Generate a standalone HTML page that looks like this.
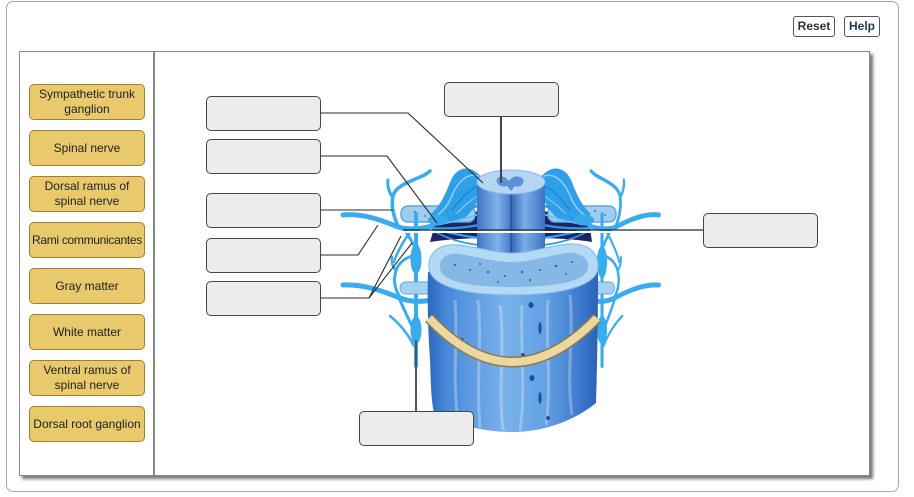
<!DOCTYPE html>
<html><head><meta charset="utf-8"><style>
*{box-sizing:border-box}
body{margin:0;width:914px;height:497px;background:#fff;position:relative;overflow:hidden;font-family:"Liberation Sans",Arial,sans-serif}
.outer{position:absolute;left:6px;top:1px;width:893px;height:491px;border:1px solid #a8a8a8;border-radius:7px}
.btn{position:absolute;top:16px;height:21px;border:1px solid #555;border-radius:3px;font-size:12px;font-weight:bold;text-align:center;line-height:19px;background:#fff}
.panel{position:absolute;left:19px;top:51px;width:851px;height:425px;border:1px solid #8a8a8a;box-shadow:3px 3px 3px #777;background:#fff}
.dv{position:absolute;left:153px;top:51px;width:2px;height:425px;background:#888}
.lab{position:absolute;left:29px;width:116px;height:36px;background:#e8c96c;border:1px solid #a87c2c;border-radius:5px;font-size:12px;color:#222;display:flex;align-items:center;justify-content:center;text-align:center;line-height:15px;white-space:nowrap}
.box{position:absolute;width:115px;height:35px;background:#ececec;border:1px solid #4a4444;border-radius:5px}
svg{position:absolute;left:0;top:0}
</style></head>
<body>
<div class="outer"></div>
<div class="btn" style="left:793px;width:42px;color:#333">Reset</div>
<div class="btn" style="left:844px;width:36px;color:#1d3d52">Help</div>
<div class="panel"></div>
<div class="dv"></div>

<svg width="914" height="497" viewBox="0 0 914 497">
<defs>
<linearGradient id="bg" x1="0" x2="1" y1="0" y2="0">
<stop offset="0" stop-color="#2c68bd"/>
<stop offset="0.12" stop-color="#4b8ada"/>
<stop offset="0.45" stop-color="#78b2ea"/>
<stop offset="0.7" stop-color="#62a0e4"/>
<stop offset="0.9" stop-color="#3c78ca"/>
<stop offset="1" stop-color="#2a62b6"/>
</linearGradient>
<linearGradient id="cg" x1="0" x2="1" y1="0" y2="0">
<stop offset="0" stop-color="#3f74c4"/>
<stop offset="0.3" stop-color="#80b2ea"/>
<stop offset="0.48" stop-color="#4d80cc"/>
<stop offset="0.52" stop-color="#3a6cb8"/>
<stop offset="0.7" stop-color="#7aaee8"/>
<stop offset="1" stop-color="#3d72c2"/>
</linearGradient>
</defs>

<path d="M438,214 C470,210 552,210 588,214 L592,242 C560,236 465,236 430,242 Z" fill="#1d2466"/>

<rect x="401" y="206" width="74" height="16" rx="7" fill="#9fcdf0" stroke="#5fa6e4" stroke-width="1.5"/>
<rect x="548" y="206" width="68" height="16" rx="7" fill="#9fcdf0" stroke="#5fa6e4" stroke-width="1.5"/>
<g fill="#4f86cc">
<circle cx="415" cy="212" r="1.2"/><circle cx="425" cy="216" r="1"/><circle cx="440" cy="211" r="1.2"/><circle cx="452" cy="215" r="1"/>
<circle cx="570" cy="212" r="1.2"/><circle cx="582" cy="216" r="1"/><circle cx="595" cy="211" r="1.2"/><circle cx="605" cy="215" r="1"/>
</g>

<g>
<path d="M482,178 C472,165 458,165 451,180 C446,192 442,204 431,214 C440,223 452,223 462,220 C470,215 476,205 481,195 Z" fill="#2e9fe8"/>
<g fill="none" stroke-linecap="round">
<path d="M478,176 C465,172 456,185 450,200 C446,208 440,214 434,217" stroke="#8fd0f6" stroke-width="1.5"/>
<path d="M480,185 C468,190 460,200 452,210" stroke="#1a7fcf" stroke-width="1.2"/>
<path d="M480,195 C470,200 462,208 455,215" stroke="#7cc8f5" stroke-width="1.2"/>
<path d="M479,205 C465,212 450,218 436,222" stroke="#2a9ae4" stroke-width="2.2"/>
<path d="M479,214 C465,219 450,223 435,225" stroke="#6cc0f3" stroke-width="1.6"/>
<path d="M479,225 C463,228 448,229 433,228" stroke="#2a9ae4" stroke-width="2.2"/>
<path d="M479,238 C462,236 446,232 433,229" stroke="#35a6ec" stroke-width="2.2"/>
<path d="M479,245 C460,243 446,238 434,231" stroke="#2a9ae4" stroke-width="1.8"/>
</g>
<ellipse cx="438" cy="220" rx="10" ry="5.5" fill="#38aaec"/>
</g>
<g transform="matrix(-1,0,0,1,1022,0)">
<path d="M482,178 C472,165 458,165 451,180 C446,192 442,204 431,214 C440,223 452,223 462,220 C470,215 476,205 481,195 Z" fill="#2e9fe8"/>
<g fill="none" stroke-linecap="round">
<path d="M478,176 C465,172 456,185 450,200 C446,208 440,214 434,217" stroke="#8fd0f6" stroke-width="1.5"/>
<path d="M480,185 C468,190 460,200 452,210" stroke="#1a7fcf" stroke-width="1.2"/>
<path d="M480,195 C470,200 462,208 455,215" stroke="#7cc8f5" stroke-width="1.2"/>
<path d="M479,205 C465,212 450,218 436,222" stroke="#2a9ae4" stroke-width="2.2"/>
<path d="M479,214 C465,219 450,223 435,225" stroke="#6cc0f3" stroke-width="1.6"/>
<path d="M479,225 C463,228 448,229 433,228" stroke="#2a9ae4" stroke-width="2.2"/>
<path d="M479,238 C462,236 446,232 433,229" stroke="#35a6ec" stroke-width="2.2"/>
<path d="M479,245 C460,243 446,238 434,231" stroke="#2a9ae4" stroke-width="1.8"/>
</g>
<ellipse cx="438" cy="220" rx="10" ry="5.5" fill="#38aaec"/>
</g>

<rect x="477" y="182" width="68" height="74" fill="url(#cg)"/>
<line x1="511" y1="190" x2="511" y2="256" stroke="#2c5aa4" stroke-width="2"/>
<ellipse cx="511" cy="182" rx="34" ry="12" fill="#b5d6f2" stroke="#8ab8e8" stroke-width="1"/>
<path d="M497,179 C501,174 506,177 509,181 C512,177 517,174 523,179 C525,184 520,188 515,186 L511,191 L507,186 C502,188 495,184 497,179 Z" fill="#5d90d6"/>

<g fill="none" stroke="#38acec" stroke-linecap="round">
<path d="M343,215 C362,213 382,220 398,227 C408,230 420,229 432,226" stroke-width="5"/>
<path d="M398,226 C393,215 391,205 393,196 C395,188 404,184 413,180 C420,177 426,175 430,171" stroke-width="3.5"/>
<path d="M393,198 C389,192 387,186 388,180" stroke-width="3"/>
<path d="M416,214 L416,366" stroke-width="4"/>
<path d="M404,229 C410,238 414,245 416,250" stroke-width="3"/>
<path d="M410,232 C401,245 396,255 394,262" stroke-width="2.5"/>
<path d="M343,285 C365,284 385,292 400,298 C410,302 422,302 432,300" stroke-width="5"/>
<path d="M400,297 C394,288 393,278 397,268 C400,262 406,258 412,256" stroke-width="3"/>
<path d="M396,271 C392,266 391,262 392,257" stroke-width="2.5"/>
<path d="M400,300 C405,312 410,322 414,330" stroke-width="3"/>
<path d="M390,316 C400,324 408,334 414,346" stroke-width="2.5"/>
</g>
<g fill="#38acec">
<ellipse cx="416" cy="259" rx="5.5" ry="15"/>
<ellipse cx="416" cy="330" rx="5.5" ry="14"/>
</g>
<rect x="400" y="282" width="34" height="12" rx="6" fill="#a5d2f2" stroke="#5fa6e4" stroke-width="1"/>

<g transform="matrix(-0.78,0,0,1,926.5,0)">
<g fill="none" stroke="#38acec" stroke-linecap="round">
<path d="M343,215 C362,213 382,220 398,227 C408,230 420,229 432,226" stroke-width="5"/>
<path d="M398,226 C393,215 391,205 393,196 C395,188 404,184 413,180 C420,177 426,175 430,171" stroke-width="3.5"/>
<path d="M393,198 C389,192 387,186 388,180" stroke-width="3"/>
<path d="M416,214 L416,366" stroke-width="4"/>
<path d="M404,229 C410,238 414,245 416,250" stroke-width="3"/>
<path d="M410,232 C401,245 396,255 394,262" stroke-width="2.5"/>
<path d="M343,285 C365,284 385,292 400,298 C410,302 422,302 432,300" stroke-width="5"/>
<path d="M400,297 C394,288 393,278 397,268 C400,262 406,258 412,256" stroke-width="3"/>
<path d="M396,271 C392,266 391,262 392,257" stroke-width="2.5"/>
<path d="M400,300 C405,312 410,322 414,330" stroke-width="3"/>
<path d="M390,316 C400,324 408,334 414,346" stroke-width="2.5"/>
</g>
<g fill="#38acec">
<ellipse cx="416" cy="262" rx="6.5" ry="16"/>
<ellipse cx="416" cy="330" rx="6.5" ry="14"/>
</g>
<rect x="400" y="282" width="34" height="12" rx="6" fill="#a5d2f2" stroke="#5fa6e4" stroke-width="1"/>
</g>

<path d="M428,272 C427,300 428,330 430,360 C431,385 431,400 434,413 C455,425 485,432 512,432 C545,432 575,420 596,403 C597,370 598,330 598,272 Z" fill="url(#bg)"/>
<g stroke="#ffffff" stroke-opacity="0.28" fill="none" stroke-width="3">
<path d="M455,300 C458,340 452,380 458,420"/>
<path d="M478,300 C482,340 476,380 480,428"/>
<path d="M500,305 C505,345 498,390 503,430"/>
<path d="M522,305 C520,345 526,390 520,430"/>
<path d="M548,300 C545,340 552,380 546,425"/>
<path d="M570,295 C574,335 566,375 572,415"/>
</g>
<g fill="#1f4f9a">
<ellipse cx="531" cy="305" rx="2.5" ry="3"/>
<ellipse cx="540" cy="328" rx="1.6" ry="6"/>
<ellipse cx="523" cy="355" rx="2" ry="2"/>
<ellipse cx="532" cy="378" rx="2.5" ry="3"/>
<ellipse cx="540" cy="398" rx="1.6" ry="6"/>
<ellipse cx="548" cy="418" rx="2" ry="2"/>
<ellipse cx="462" cy="340" rx="1.5" ry="2"/>
</g>
<path d="M429,318 Q512,406 597,318" fill="none" stroke="#8c7a4e" stroke-width="11"/>
<path d="M429,318 Q512,406 597,318" fill="none" stroke="#ead8a0" stroke-width="8"/>
<path d="M429,268 C428,252 440,243 458,245 C478,247 495,253 512,253 C530,253 548,246 568,244 C588,243 599,252 598,268 C597,283 570,295 512,295 C455,295 430,283 429,268 Z" fill="#b3d9f5" stroke="#7db6ea" stroke-width="1"/>
<path d="M440,268 C439,258 447,252 460,254 C478,257 495,262 512,262 C530,262 548,256 566,253 C582,252 589,259 588,268 C587,279 565,287 512,287 C460,287 441,279 440,268 Z" fill="#86b8e6"/>
<g fill="#3f6fb8">
<circle cx="455" cy="265" r="1.3"/><circle cx="470" cy="270" r="1.1"/><circle cx="488" cy="272" r="1.4"/><circle cx="505" cy="276" r="1.1"/>
<circle cx="522" cy="272" r="1.3"/><circle cx="540" cy="270" r="1.1"/><circle cx="556" cy="266" r="1.4"/><circle cx="572" cy="262" r="1.1"/>
<circle cx="480" cy="264" r="1"/><circle cx="530" cy="280" r="1.2"/><circle cx="498" cy="282" r="1"/><circle cx="566" cy="274" r="1"/>
</g>

<g fill="none" stroke="#2a2a2a" stroke-width="1.1">
<path d="M320,113 L408,113 L483,183"/>
<path d="M320,156 L387,156 L437,223"/>
<path d="M320,210 L393,210"/>
<path d="M320,255 L358,255 L378,225"/>
<path d="M320,298 L369,298 L401,236"/>
<path d="M369,298 L412,243"/>
</g>
<line x1="501" y1="116" x2="501" y2="183" stroke="#444" stroke-width="2"/>
<line x1="403" y1="232" x2="703" y2="232" stroke="#fff" stroke-width="2"/>
<line x1="403" y1="230" x2="703" y2="230" stroke="#2a2a2a" stroke-width="1.2"/>
<line x1="416" y1="340" x2="416" y2="411" stroke="#555" stroke-width="2"/>
</svg>

<div class="box" style="left:206px;top:96px"></div>
<div class="box" style="left:206px;top:139px"></div>
<div class="box" style="left:206px;top:193px"></div>
<div class="box" style="left:206px;top:238px"></div>
<div class="box" style="left:206px;top:281px"></div>
<div class="box" style="left:444px;top:82px"></div>
<div class="box" style="left:703px;top:213px"></div>
<div class="box" style="left:359px;top:411px"></div>

<div class="lab" style="top:84px">Sympathetic trunk<br>ganglion</div>
<div class="lab" style="top:130px">Spinal nerve</div>
<div class="lab" style="top:176px">Dorsal ramus of<br>spinal nerve</div>
<div class="lab" style="top:222px;letter-spacing:-0.3px">Rami communicantes</div>
<div class="lab" style="top:268px">Gray matter</div>
<div class="lab" style="top:314px">White matter</div>
<div class="lab" style="top:360px">Ventral ramus of<br>spinal nerve</div>
<div class="lab" style="top:406px">Dorsal root ganglion</div>
</body></html>
